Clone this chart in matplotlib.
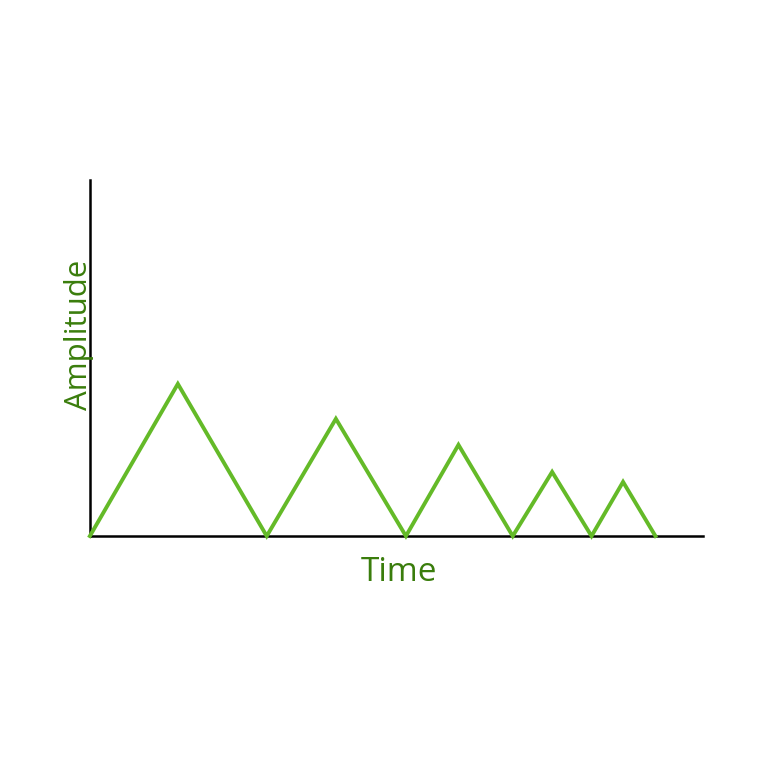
import matplotlib
matplotlib.use('Agg')
import matplotlib.pyplot as plt

# triangle wave with decaying peaks
t = [0, 1.005, 2.02, 2.81, 3.61, 4.21, 4.83, 5.28, 5.73, 6.09, 6.46]
amp = [0, 0.427, 0, 0.329, 0, 0.256, 0, 0.18, 0, 0.152, 0]

plt.rcParams['font.family'] = ['Open Sans', 'DejaVu Sans']

fig = plt.figure(figsize=(7.68, 7.68), dpi=100)
ax = fig.add_axes([0.117, 0.302, 0.798, 0.464])
ax.plot(t, amp, color='#64ba28', lw=2.8, solid_joinstyle='miter', clip_on=False)
ax.set_xlim(0, 7)
ax.set_ylim(0, 1)

for s in ['top', 'right']:
    ax.spines[s].set_visible(False)
for s in ['left', 'bottom']:
    ax.spines[s].set_linewidth(1.8)
    ax.spines[s].set_zorder(1)
ax.set_xticks([])
ax.set_yticks([])

ax.set_xlabel('Time', fontsize=24, color='#3a7d0c')
ax.set_ylabel('Amplitude', fontsize=22.5, color='#3a7d0c')
ax.xaxis.set_label_coords(0.504, -0.055)
ax.yaxis.set_label_coords(0.006, 0.564)

fig.savefig('out.png', dpi=100, facecolor='white')
